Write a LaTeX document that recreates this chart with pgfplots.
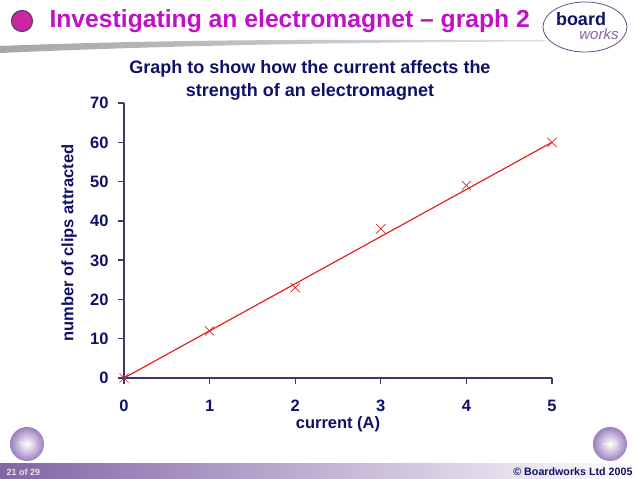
\documentclass[border=0pt]{standalone}
\usepackage{pgfplots}
\pgfplotsset{compat=1.18}
\usepackage{fontspec}
\setmainfont{Liberation Sans}
\definecolor{navy}{HTML}{10106A}
\definecolor{magent}{HTML}{C010C8}
\definecolor{axc}{HTML}{3A3A6A}
\definecolor{redl}{HTML}{E02424}
\definecolor{purp}{HTML}{9070B8}
\begin{document}
\begin{tikzpicture}[x=1pt,y=1pt]
\useasboundingbox (0,0) rectangle (638,479);
% header (y measured from top: Y = 479 - y)
\shade[left color=gray!70, right color=purp!25] (0,479-46) .. controls (200,479-38) and (400,479-40) .. (545,479-40) -- (545,479-41.5) .. controls (400,479-42) and (200,479-44) .. (0,479-53) -- cycle;
\draw[fill=magent!80!orange, draw=purp!60!black, line width=1.2pt] (22,479-21) circle (10.5);
\node[anchor=west, text=magent, font=\bfseries\fontsize{24.7}{26}\selectfont] at (46,479-21) {Investigating an electromagnet – graph 2};
% logo
\draw[purp!70!black, line width=0.8pt] (585,479-27) ellipse (42 and 25);
\node[text=navy, font=\bfseries\fontsize{18}{18}\selectfont, inner sep=0pt] at (581,479-19) {board};
\node[text=purp!90!black, font=\itshape\fontsize{15}{15}\selectfont, inner sep=0pt] at (599,479-34) {works};
% footer
\shade[left color=purp!90!black, right color=white] (0,0) rectangle (638,15);
\node[anchor=west, text=gray!20, font=\bfseries\fontsize{9}{10}\selectfont] at (3,7) {21 of 29};
\node[anchor=east, text=navy, font=\bfseries\fontsize{10.7}{11}\selectfont] at (636,7) {© Boardworks Ltd 2005};
% nav buttons
\shade[inner color=white, outer color=purp!90] (27,479-444) circle (17);
\shade[inner color=white, outer color=purp!90] (610,479-444) circle (17);
\node[text=white, font=\bfseries\fontsize{9}{9}\selectfont] at (27,479-444) {$\leftarrow$\hspace{-1pt}...};
\node[text=white, font=\bfseries\fontsize{9}{9}\selectfont] at (610,479-444) {...\hspace{-1pt}$\rightarrow$};
% chart title
\node[text=navy, font=\bfseries\fontsize{18}{23}\selectfont, align=center] at (310,479-80) {Graph to show how the current affects the\\strength of an electromagnet};
\begin{axis}[
  at={(124pt,101pt)}, anchor=south west,
  scale only axis, width=428pt, height=275pt,
  xmin=0, xmax=5, ymin=0, ymax=70,
  axis lines*=left,
  axis line style={axc, line width=1.6pt},
  xtick={0,1,2,3,4,5}, ytick={0,10,20,30,40,50,60,70},
  tick align=outside, major tick length=6pt,
  tick style={axc, line width=1.3pt},
  ticklabel style={text=navy, font=\bfseries\fontsize{16.5}{18}\selectfont},
  /pgf/number format/assume math mode=true,
  xticklabel style={yshift=-12pt, text height=12pt, text depth=0pt},
  yticklabel style={xshift=-6pt, text height=12pt, text depth=0pt},
  xlabel={current (A)}, ylabel={number of clips attracted},
  label style={text=navy, font=\bfseries\fontsize{16.5}{18}\selectfont},
  xlabel style={at={(axis description cs:0.5,-0.167)}, anchor=center},
  ylabel style={at={(axis description cs:-0.128,0.49)}, anchor=center},
  clip=false,
]
\addplot[redl, line width=1.2pt] coordinates {(0,0) (5,60)};
\addplot[only marks, mark=x, mark size=6.5pt, redl, line width=0.7pt] coordinates {(0,0) (1,12) (2,23) (3,38) (4,49) (5,60)};
\end{axis}
\end{tikzpicture}
\end{document}
